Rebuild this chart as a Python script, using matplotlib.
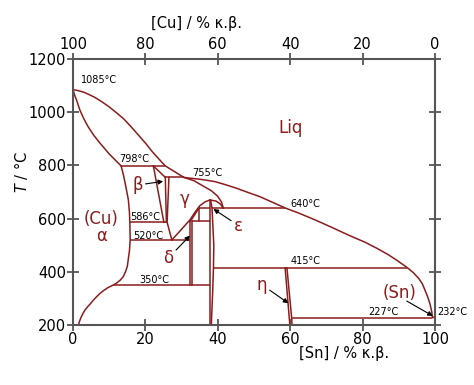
import matplotlib
matplotlib.use('Agg')
import matplotlib.pyplot as plt

line_col = '#8b1c1c'
axis_col = '#555555'

# liquidus, wt% Sn vs T
liq_sn = [0, 1.5, 3, 4.5, 6, 8, 10, 12, 14, 16, 18, 20, 22, 24, 25.5, 28, 30.6,
          33, 35, 37, 39.2, 42, 45, 48, 51.7, 55, 58.6, 62.5, 66.9, 71.5, 76.1, 80.7,
          84, 87, 89.5, 92.4, 94, 95.5, 96.5, 97.2, 98, 98.6, 99.1, 99.3, 100]
liq_t = [1085, 1081, 1075, 1066, 1056, 1039, 1020, 998, 975, 946, 915, 884, 850, 820, 798, 777, 755,
         751, 748, 744, 739, 728, 715, 700, 682, 662, 640, 620, 595, 567, 538, 511,
         488, 465, 443, 415, 397, 375, 355, 332, 305, 280, 250, 227, 232]

# (Cu) solidus and solvus
sol_sn = [0, 0.5, 1, 1.9, 3, 4.2, 5.8, 7.5, 10, 13.3]
sol_t = [1085, 1062, 1045, 1008, 975, 945, 912, 883, 843, 798]
cu_sn = [13.3, 14.0, 14.6, 15.3, 15.6, 15.7, 15.8, 15.6, 15.3, 15.0, 14.5, 13.9, 13.0, 12.0, 11.1,
         9.7, 8.5, 7.4, 6.5, 5.6, 4.8, 4.0, 3.3, 2.7, 2.2, 1.8, 1.5]
cu_t = [798, 760, 720, 670, 620, 586, 520, 480, 450, 420, 400, 382, 368, 357, 350,
        341, 330, 318, 306, 293, 280, 268, 256, 242, 228, 214, 200]

# beta / gamma boundaries
beta_l_sn = [22.2, 25.1]
beta_l_t = [798, 586]
beta_top_sn = [22.2, 25.5]
beta_top_t = [798, 755]
bg1_sn = [25.5, 25.8]
bg1_t = [755, 586]
bg2_sn = [26.5, 26.0, 27.3]
bg2_t = [755, 586, 520]
gam_sn = [27.3, 29.0, 30.5, 32.3, 33.5, 35.0, 36.5, 37.8, 39.5, 40.7, 41.5]
gam_t = [520, 545, 568, 595, 620, 648, 663, 670, 666, 655, 640]
gsol_sn = [30.6, 33.5, 36.0, 38.2, 39.9, 41.0, 41.5]
gsol_t = [755, 742, 722, 705, 685, 663, 640]

# delta, epsilon, eta phases
dl_sn = [32.4, 32.4]
dl_t = [350, 590]
dr_sn = [33.0, 33.0]
dr_t = [350, 590]
din_sn = [32.4, 33.5, 34.8]
din_t = [590, 612, 640]
dv_sn = [34.8, 34.8]
dv_t = [590, 640]
el_sn = [37.8, 37.8]
el_t = [200, 670]
er_sn = [38.0, 38.4, 38.9, 38.8, 38.6, 38.2]
er_t = [670, 640, 500, 415, 330, 200]
hl_sn = [58.6, 59.9]
hl_t = [415, 200]
hr_sn = [59.1, 60.4, 60.5]
hr_t = [415, 227, 200]

# isotherms: temperature, left and right end
iso_t = [798, 755, 586, 520, 350, 590, 640, 640, 415, 227]
iso_x0 = [13.3, 25.5, 15.7, 15.8, 11.1, 33.0, 34.8, 38.4, 38.9, 60.5]
iso_x1 = [25.5, 30.6, 26.0, 32.4, 37.8, 37.8, 37.8, 58.6, 92.4, 99.3]

# temperature labels
tlab = ['1085°C', '798°C', '755°C', '586°C', '520°C', '350°C', '640°C', '415°C', '227°C', '232°C']
tlab_x = [2.2, 12.8, 33.0, 15.9, 16.5, 18.4, 60.0, 60.0, 81.5, 100.6]
tlab_t = [1120, 823, 770, 605, 534, 371, 655, 441, 250, 250]

fig = plt.figure(figsize=(4.74, 3.85), dpi=100)
ax = fig.add_axes([73/474, 1-325/385, 362/474, 266/385])

lw = 1.1
curves = [(liq_sn, liq_t), (sol_sn, sol_t), (cu_sn, cu_t), (beta_l_sn, beta_l_t),
          (beta_top_sn, beta_top_t), (bg1_sn, bg1_t), (bg2_sn, bg2_t), (gam_sn, gam_t),
          (gsol_sn, gsol_t), (dl_sn, dl_t), (dr_sn, dr_t), (din_sn, din_t), (dv_sn, dv_t),
          (el_sn, el_t), (er_sn, er_t), (hl_sn, hl_t), (hr_sn, hr_t)]
for xs, ts in curves:
    ax.plot(xs, ts, color=line_col, lw=lw, clip_on=False, solid_joinstyle='round')
ax.hlines(iso_t, iso_x0, iso_x1, color=line_col, lw=lw)

for s, x, t in zip(tlab, tlab_x, tlab_t):
    ax.text(x, t, s, fontsize=7, va='center', ha='left', clip_on=False)

# phase labels
pcol = '#8b1c1c'
ax.text(60, 941, 'Liq', color=pcol, fontsize=12, ha='center', va='center')
ax.text(7.7, 598, '(Cu)', color=pcol, fontsize=12, ha='center', va='center')
ax.text(7.9, 535, 'α', color=pcol, fontsize=12, ha='center', va='center')
ax.text(30.7, 672, 'γ', color=pcol, fontsize=12, ha='center', va='center')
ax.text(90.3, 319, '(Sn)', color=pcol, fontsize=12, ha='center', va='center')
arr = dict(arrowstyle='-|>', color='black', lw=0.8, mutation_scale=7, shrinkA=0, shrinkB=0)
ax.annotate('β', xy=(24.9, 740), xytext=(17.8, 726), color=pcol, fontsize=12,
            ha='center', va='center', arrowprops=arr)
ax.annotate('ε', xy=(38.8, 636), xytext=(45.7, 574), color=pcol, fontsize=12,
            ha='center', va='center', arrowprops=arr)
ax.annotate('δ', xy=(32.3, 536), xytext=(26.3, 451), color=pcol, fontsize=12,
            ha='center', va='center', arrowprops=arr)
ax.annotate('η', xy=(59.5, 282), xytext=(52.1, 352), color=pcol, fontsize=12,
            ha='center', va='center', arrowprops=arr)
ax.annotate('', xy=(99.4, 234), xytext=(92.2, 290), arrowprops=arr)

ax.set_xlim(0, 100)
ax.set_ylim(200, 1200)
ax.set_xticks(range(0, 101, 20))
ax.set_yticks(range(200, 1201, 200))
for sp in ax.spines.values():
    sp.set_color(axis_col)
    sp.set_linewidth(1.5)
ax.tick_params(direction='inout', length=8, width=1.3, color=axis_col, labelsize=10.5,
               right=True, pad=1)
ax.set_xlabel('[Sn] / % κ.β.', fontsize=10.5)
ax.xaxis.set_label_coords(0.75, -0.08)
ax.set_ylabel('$T$ / °C', fontsize=10.5)
ax.yaxis.set_label_coords(-0.12, 0.575)

ax2 = ax.twiny()
ax2.set_xlim(100, 0)
ax2.set_xticks(range(0, 101, 20))
for sp in ax2.spines.values():
    sp.set_visible(False)
ax2.tick_params(direction='inout', length=8, width=1.3, color=axis_col, labelsize=10.5, pad=1)
ax2.set_xlabel('[Cu] / % κ.β.', fontsize=10.5)
ax2.xaxis.set_label_coords(0.34, 1.115)

fig.savefig('out.png', dpi=100)
